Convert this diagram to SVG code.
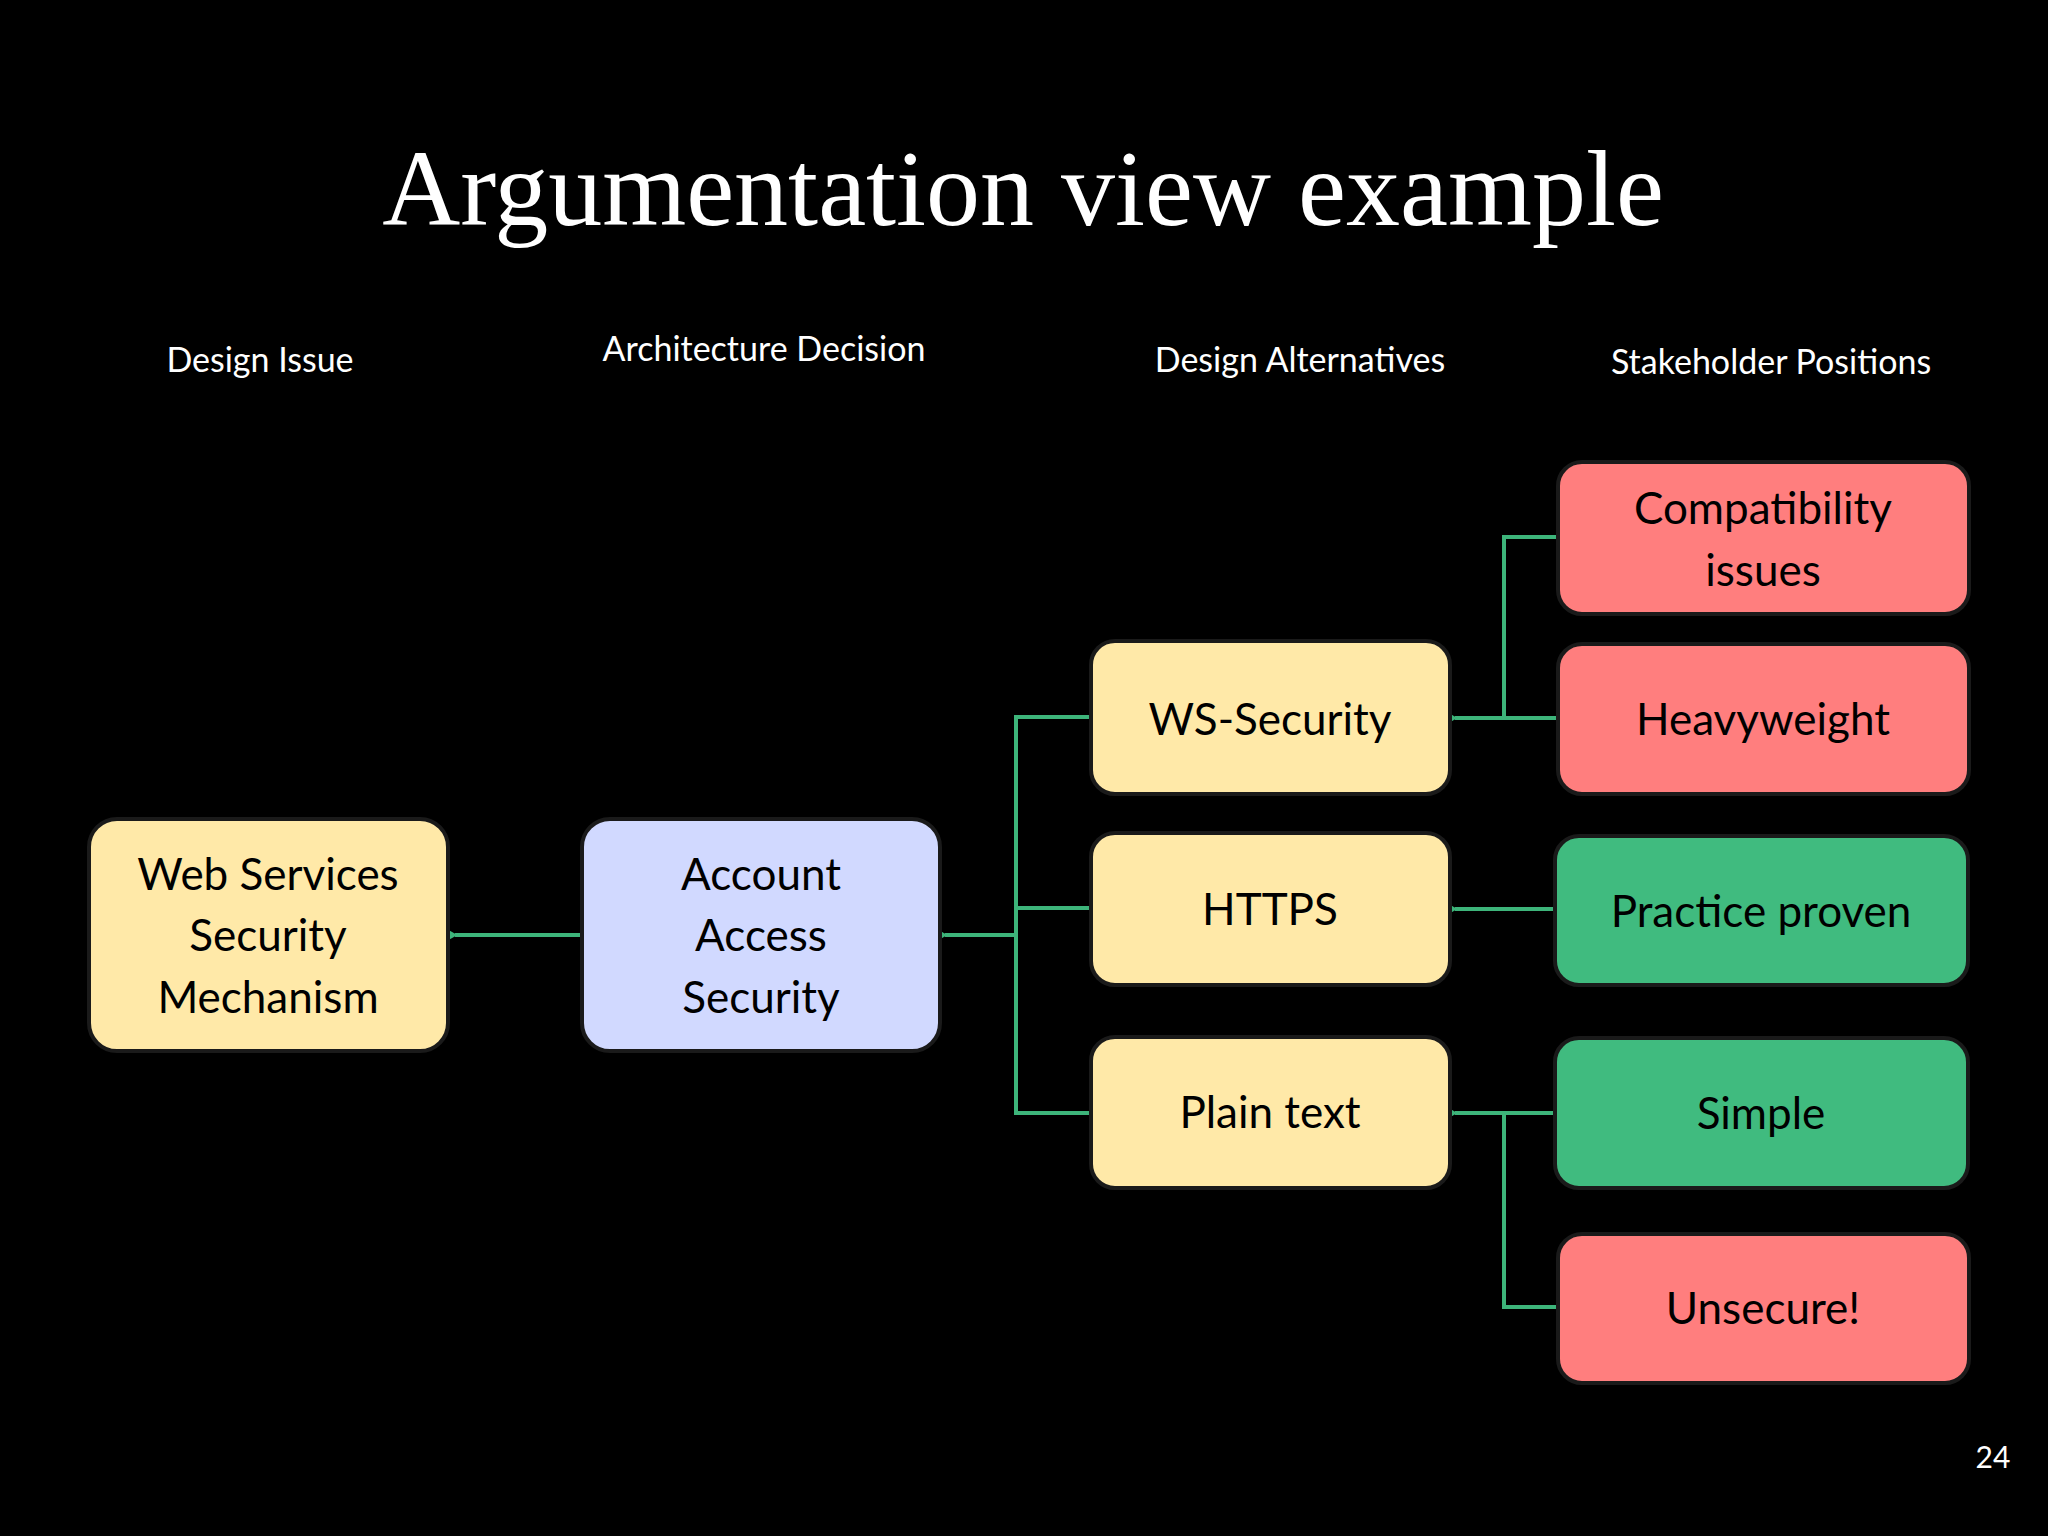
<svg xmlns="http://www.w3.org/2000/svg" width="2048" height="1536" viewBox="0 0 2048 1536">
<style>
.t{font-family:Lato,"Open Sans",sans-serif;fill:#000;font-size:44px;text-anchor:middle}
.h{font-family:Lato,"Open Sans",sans-serif;fill:#fff;font-size:34px;text-anchor:middle}
.b{stroke:#1a1a1a;stroke-width:4}
.y{fill:#FFE9A8}.bl{fill:#D1D9FF}.r{fill:#FF7E7E}.g{fill:#40BB7F}
.c{stroke:#3DB47A;stroke-width:4;fill:none}
</style>
<defs><marker id="a" viewBox="0 0 12 12" refX="1" refY="6" markerWidth="6" markerHeight="6" orient="auto-start-reverse" markerUnits="strokeWidth"><path d="M11,1 L2,6 L11,11" fill="none" stroke="#3DB47A" stroke-width="2.2"/></marker></defs>
<rect width="2048" height="1536" fill="#000"/>
<text x="1023" y="225" font-family="Liberation Serif,serif" font-size="108" fill="#fff" text-anchor="middle">Argumentation view example</text>
<text class="h" x="260" y="372">Design Issue</text>
<text class="h" x="764" y="361">Architecture Decision</text>
<text class="h" x="1300" y="372">Design Alternatives</text>
<text class="h" x="1771" y="374">Stakeholder Positions</text>
<g id="connectors">
<path class="c" d="M581,935 H455" marker-end="url(#a)"/>
<path class="c" d="M1091,717 H1016 V1113 H1091 M1016,908 H1091"/>
<path class="c" d="M1016,935 H945" marker-end="url(#a)"/>
<path class="c" d="M1558,537 H1504 V718"/>
<path class="c" d="M1558,718 H1455" marker-end="url(#a)"/>
<path class="c" d="M1555,909 H1455" marker-end="url(#a)"/>
<path class="c" d="M1504,1113 V1307 H1558"/>
<path class="c" d="M1555,1113 H1455" marker-end="url(#a)"/>
</g>
<g id="web"><rect class="b y" x="89" y="819" width="359" height="232" rx="28"/><text class="t" x="268" y="890">Web Services</text><text class="t" x="268" y="951">Security</text><text class="t" x="268" y="1013">Mechanism</text></g>
<g id="account"><rect class="b bl" x="582" y="819" width="358" height="232" rx="28"/><text class="t" x="761" y="890">Account</text><text class="t" x="761" y="951">Access</text><text class="t" x="761" y="1013">Security</text></g>
<g id="ws"><rect class="b y" x="1091" y="641" width="359" height="153" rx="24"/><text class="t" x="1270" y="735">WS-Security</text></g>
<g id="https"><rect class="b y" x="1091" y="833" width="359" height="152" rx="24"/><text class="t" x="1270" y="925">HTTPS</text></g>
<g id="plain"><rect class="b y" x="1091" y="1037" width="359" height="151" rx="24"/><text class="t" x="1270" y="1128">Plain text</text></g>
<g id="compat"><rect class="b r" x="1558" y="462" width="411" height="152" rx="24"/><text class="t" x="1763" y="524">Compatibility</text><text class="t" x="1763" y="586">issues</text></g>
<g id="heavy"><rect class="b r" x="1558" y="644" width="411" height="150" rx="24"/><text class="t" x="1763" y="735">Heavyweight</text></g>
<g id="practice"><rect class="b g" x="1555" y="836" width="413" height="149" rx="24"/><text class="t" x="1761" y="927">Practice proven</text></g>
<g id="simple"><rect class="b g" x="1555" y="1038" width="413" height="150" rx="24"/><text class="t" x="1761" y="1129">Simple</text></g>
<g id="unsecure"><rect class="b r" x="1558" y="1234" width="411" height="149" rx="24"/><text class="t" x="1763" y="1324">Unsecure!</text></g>
<text x="1993" y="1468" font-family="Lato,sans-serif" font-size="30" fill="#fff" text-anchor="middle">24</text>
</svg>
